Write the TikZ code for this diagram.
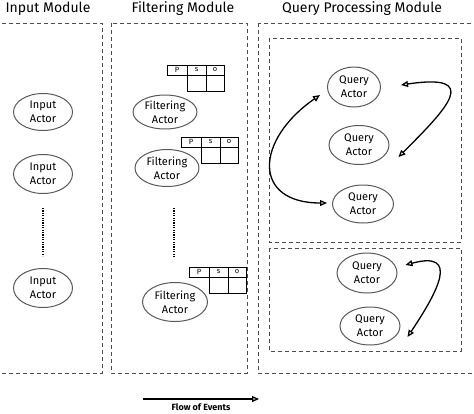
\documentclass[tikz,border=0pt]{standalone}
\usepackage{fontspec}
\setmainfont{Fira Sans}
\usetikzlibrary{shapes.geometric,arrows.meta,calc}

\newcommand{\psotable}[2]{%
  \draw[cellline] (#1,#2) rectangle ++(57,10);
  \draw[cellline] (#1+20,#2) -- ++(0,26) -- ++(37,0) -- ++(0,-16);
  \draw[cellline] (#1+39,#2) -- ++(0,26);
  \node[celltext] at (#1+10,#2+5) {P};
  \node[celltext] at (#1+29.5,#2+5) {s};
  \node[celltext] at (#1+48,#2+5) {o};
}

\begin{document}
\begin{tikzpicture}[x=1pt, y=-1pt,
    module/.style={draw=black!70, dash pattern=on 4pt off 3pt, line width=0.8pt},
    header/.style={font=\fontsize{14}{16}\selectfont, inner sep=0pt},
    actor/.style={ellipse, draw=black!65, line width=1pt, align=center, inner sep=0pt,
                  font=\fontsize{11}{14}\selectfont},
    dotline/.style={line width=1.6pt, dash pattern=on 1.2pt off 1.2pt},
    cellline/.style={draw=black, line width=0.7pt},
    celltext/.style={font=\fontsize{7.5}{8}\selectfont, inner sep=0pt},
    dbl/.style={line width=1.3pt, {Triangle[open,length=7pt,width=6pt]}-{Triangle[open,length=7pt,width=6pt]}},
    flow/.style={line width=1.3pt, -{Triangle[open,length=7pt,width=6pt]}}]
  \useasboundingbox (0,0) rectangle (474,413);
  \clip (0,0) rectangle (474,413);

  % module frames
  \draw[module] (-5,23) rectangle (102,373);
  \draw[module] (111,23) rectangle (247,373);
  \draw[module] (258,23) rectangle (480,373);
  \draw[module] (269,38) rectangle (461,242);
  \draw[module] (269,248) rectangle (461,351);

  \node[header] at (48,9) {Input Module};
  \node[header] at (183,9) {Filtering Module};
  \node[header] at (362,9) {Query Processing Module};

  % input module
  \node[actor, minimum width=59pt, minimum height=37pt] (in1) at (43,112) {Input\\Actor};
  \node[actor, minimum width=59pt, minimum height=39pt] (in2) at (43,174) {Input\\Actor};
  \node[actor, minimum width=59pt, minimum height=39pt] (in3) at (43,288) {Input\\Actor};
  \draw[dotline, shorten <=14pt, shorten >=12pt] (in2) -- (in3);

  % filtering module
  \psotable{167}{65}
  \node[actor, minimum width=64pt, minimum height=34pt] (flt1) at (165,112) {Filtering\\Actor};
  \psotable{181}{137}
  \node[actor, minimum width=64pt, minimum height=37pt] (flt2) at (167,168) {Filtering\\Actor};
  \psotable{189}{267}
  \node[actor, minimum width=65pt, minimum height=39pt] (flt3) at (175,302) {Filtering\\Actor};
  \draw[dotline] ($(flt2.south)+(7,21)$) -- ($(flt3.north)+(-1,-24)$);

  % query processing module
  \node[actor, minimum width=53pt, minimum height=40pt] (q1) at (354,87) {Query\\Actor};
  \node[actor, minimum width=60pt, minimum height=39pt] (q2) at (359,145) {Query\\Actor};
  \node[actor, minimum width=61pt, minimum height=38pt] (q3) at (363,204) {Query\\Actor};
  \node[actor, minimum width=60pt, minimum height=40pt] (q4) at (367,273) {Query\\Actor};
  \node[actor, minimum width=60pt, minimum height=38pt] (q5) at (370,326) {Query\\Actor};

  \draw[dbl] ($(q1.west)+(-7,8)$) .. controls +(-65,45) and +(-75,0) .. ($(q3.west)+(-5,-1)$);
  \draw[dbl] ($(q1.east)+(20,-2)$) .. controls +(80,-12) and +(50,-50) .. ($(q2.east)+(9,12)$);
  \draw[dbl] ($(q4.east)+(8,-8)$) .. controls +(55,-15) and +(30,-45) .. ($(q5.east)+(7,11)$);

  % legend
  \coordinate (flowA) at (143,399);
  \coordinate (flowB) at (259,399);
  \draw[flow] (flowA) -- (flowB);
  \node[font=\bfseries\fontsize{9}{10}\selectfont, anchor=base, inner sep=0pt] (flowtxt) at (201,410.5) {Flow of Events};
\end{tikzpicture}
\end{document}
